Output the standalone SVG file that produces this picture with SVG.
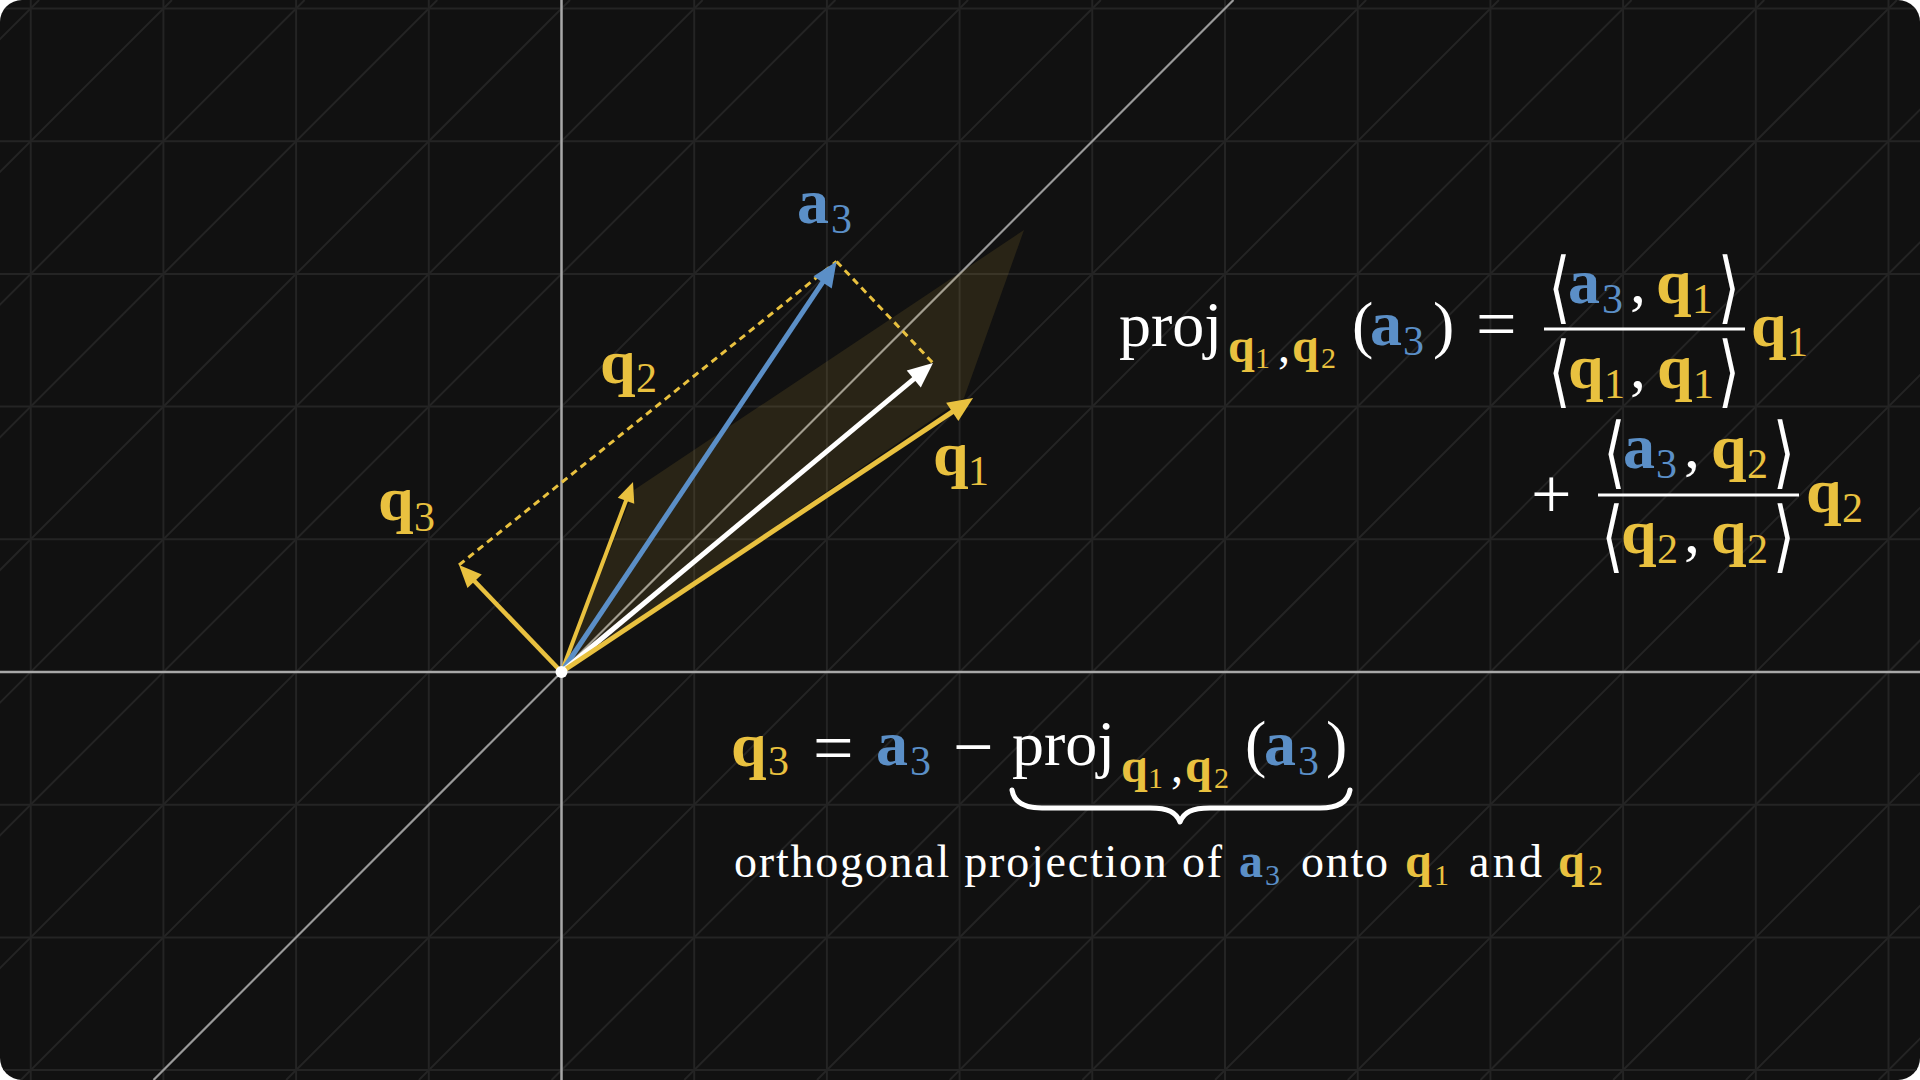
<svg xmlns="http://www.w3.org/2000/svg" width="1920" height="1080" viewBox="0 0 1920 1080">
<style>
.t{font-family:"Liberation Serif","DejaVu Serif",serif}
.b{font-weight:700}
.w{fill:#ffffff}
.y{fill:#E9C13F}
.bl{fill:#5B8FC7}
.ang{font-family:"DejaVu Sans","Noto Sans",sans-serif;font-size:56px;fill:#ffffff}
.grid{stroke:#242424;stroke-width:2;fill:none}
.axis{stroke:#a8a8a8;stroke-width:2.5;fill:none}
.guide{stroke:#E9C13F;stroke-width:3;stroke-dasharray:7 5;fill:none}
.vec{fill:none;stroke-linecap:butt}
.bar{stroke:#ffffff;stroke-width:3}
</style>
<defs>
<clipPath id="card"><rect x="0" y="0" width="1920" height="1080" rx="22" ry="22"/></clipPath>
<marker id="ah-y" markerUnits="strokeWidth" markerWidth="6" markerHeight="6" viewBox="0 -3 6 6" refX="1" refY="0" orient="auto" overflow="visible"><path d="M0,-2.2 L5,0 L0,2.2 Z" fill="#E9C13F"/></marker>
<marker id="ah-b" markerUnits="strokeWidth" markerWidth="6" markerHeight="6" viewBox="0 -3 6 6" refX="1" refY="0" orient="auto" overflow="visible"><path d="M0,-2.2 L5,0 L0,2.2 Z" fill="#5B8FC7"/></marker>
<marker id="ah-w" markerUnits="strokeWidth" markerWidth="6" markerHeight="6" viewBox="0 -3 6 6" refX="1" refY="0" orient="auto" overflow="visible"><path d="M0,-2.2 L5,0 L0,2.2 Z" fill="#ffffff"/></marker>
</defs>
<rect x="0" y="0" width="1920" height="1080" fill="#ffffff"/>
<rect id="card-bg" x="0" y="0" width="1920" height="1080" rx="22" ry="22" fill="#111111"/>
<g clip-path="url(#card)">
<g id="grid">
<path class="grid" d="M30.7,0V1080M163.4,0V1080M296.1,0V1080M428.8,0V1080M694.2,0V1080M826.9,0V1080M959.6,0V1080M1092.3,0V1080M1225,0V1080M1357.7,0V1080M1490.4,0V1080M1623.1,0V1080M1755.8,0V1080M1888.5,0V1080M0,8.5H1920M0,141.2H1920M0,273.9H1920M0,406.6H1920M0,539.3H1920M0,804.7H1920M0,937.4H1920M0,1070.1H1920"/>
<path class="grid" stroke-width="1.8" d="M-1040.8,1080L39.2,0M-908.1,1080L171.9,0M-775.4,1080L304.6,0M-642.7,1080L437.3,0M-510,1080L570,0M-377.3,1080L702.7,0M-244.6,1080L835.4,0M-111.9,1080L968.1,0M20.8,1080L1100.8,0M286.2,1080L1366.2,0M418.9,1080L1498.9,0M551.6,1080L1631.6,0M684.3,1080L1764.3,0M817,1080L1897,0M949.7,1080L2029.7,0M1082.4,1080L2162.4,0M1215.1,1080L2295.1,0M1347.8,1080L2427.8,0M1480.5,1080L2560.5,0M1613.2,1080L2693.2,0M1745.9,1080L2825.9,0M1878.6,1080L2958.6,0"/>
</g>
<g id="axes">
<path class="axis" d="M0,672H1920M561.5,0V1080"/>
<path id="diagonal" d="M153.5,1080L1233.5,0" stroke="#9a9a9a" stroke-width="2.2" fill="none"/>
</g>
</g>
<g id="span-plane">
<polygon points="561.5,672 634,490 1024,230 964,398" fill="#E9C13F" fill-opacity="0.11"/>
</g>
<g id="connectors">
<path id="guide-q3-a3" class="guide" d="M459,565L836.5,261.5"/>
<path id="guide-a3-proj" class="guide" d="M836.5,261.5L933,363"/>
</g>
<g id="vectors">
<g id="vec-q3"><path class="vec" d="M561.5,672L471.5,578" stroke="#E9C13F" stroke-width="4.5" marker-end="url(#ah-y)"/></g>
<g id="vec-q2"><path class="vec" d="M561.5,672L627.4,497" stroke="#E9C13F" stroke-width="4" marker-end="url(#ah-y)"/></g>
<g id="vec-a3"><path class="vec" d="M561.5,672L825.4,278.1" stroke="#5B8FC7" stroke-width="5" marker-end="url(#ah-b)"/></g>
<g id="vec-proj"><path class="vec" d="M561.5,672L917.6,375.8" stroke="#ffffff" stroke-width="5" marker-end="url(#ah-w)"/></g>
<g id="vec-q1"><path class="vec" d="M561.5,672L956.4,409.1" stroke="#E9C13F" stroke-width="5" marker-end="url(#ah-y)"/></g>
<circle id="origin" cx="561.5" cy="672" r="6" fill="#ffffff"/>
</g>
<g id="labels">
<text id="label-a3" class="t"><tspan class="b bl" x="797" y="223" font-size="64">a</tspan><tspan class="bl" x="831" y="233" font-size="42">3</tspan></text>
<text id="label-q2" class="t"><tspan class="b y" x="600" y="383" font-size="64">q</tspan><tspan class="y" x="636" y="392" font-size="42">2</tspan></text>
<text id="label-q1" class="t"><tspan class="b y" x="933" y="475" font-size="64">q</tspan><tspan class="y" x="968" y="485" font-size="42">1</tspan></text>
<text id="label-q3" class="t"><tspan class="b y" x="378" y="520" font-size="64">q</tspan><tspan class="y" x="414" y="531" font-size="42">3</tspan></text>
</g>
<g id="formula-proj">
<text class="t">
<tspan class="w" x="1119" y="346" font-size="64">proj</tspan>
<tspan class="b y" x="1228" y="362" font-size="48">q</tspan>
<tspan class="y" x="1255" y="368" font-size="30">1</tspan>
<tspan class="w" x="1278" y="362" font-size="48">,</tspan>
<tspan class="b y" x="1292" y="362" font-size="48">q</tspan>
<tspan class="y" x="1321" y="368" font-size="30">2</tspan>
<tspan class="w" x="1352" y="346" font-size="64">(</tspan>
<tspan class="b bl" x="1370" y="345" font-size="64">a</tspan>
<tspan class="bl" x="1403" y="355" font-size="42">3</tspan>
<tspan class="w" x="1433" y="346" font-size="64">)</tspan>
<tspan class="w" x="1476" y="348" font-size="72">=</tspan>
</text>
<line class="bar" x1="1544" y1="329" x2="1745" y2="329"/>
<text class="t">
<tspan class="b bl" x="1568" y="303" font-size="64">a</tspan>
<tspan class="bl" x="1602" y="313" font-size="42">3</tspan>
<tspan class="w" x="1630" y="303" font-size="64">,</tspan>
<tspan class="b y" x="1656" y="303" font-size="64">q</tspan>
<tspan class="y" x="1692" y="313" font-size="42">1</tspan>
<tspan class="b y" x="1568" y="388" font-size="64">q</tspan>
<tspan class="y" x="1604" y="398" font-size="42">1</tspan>
<tspan class="w" x="1630" y="388" font-size="64">,</tspan>
<tspan class="b y" x="1657" y="388" font-size="64">q</tspan>
<tspan class="y" x="1693" y="398" font-size="42">1</tspan>
<tspan class="b y" x="1751" y="346" font-size="64">q</tspan>
<tspan class="y" x="1787" y="356" font-size="42">1</tspan>
</text>
<text class="ang" transform="translate(1548.5,314) scale(1,1.4)">⟨</text>
<text class="ang" transform="translate(1718,314) scale(1,1.4)">⟩</text>
<text class="ang" transform="translate(1548.5,398) scale(1,1.4)">⟨</text>
<text class="ang" transform="translate(1718,398) scale(1,1.4)">⟩</text>
<text class="t">
<tspan class="w" x="1531" y="518" font-size="72">+</tspan>
</text>
<line class="bar" x1="1598" y1="495" x2="1799" y2="495"/>
<text class="t">
<tspan class="b bl" x="1623" y="468" font-size="64">a</tspan>
<tspan class="bl" x="1656" y="478" font-size="42">3</tspan>
<tspan class="w" x="1684" y="468" font-size="64">,</tspan>
<tspan class="b y" x="1711" y="468" font-size="64">q</tspan>
<tspan class="y" x="1747" y="478" font-size="42">2</tspan>
<tspan class="b y" x="1621" y="553" font-size="64">q</tspan>
<tspan class="y" x="1657" y="563" font-size="42">2</tspan>
<tspan class="w" x="1684" y="553" font-size="64">,</tspan>
<tspan class="b y" x="1711" y="553" font-size="64">q</tspan>
<tspan class="y" x="1747" y="563" font-size="42">2</tspan>
<tspan class="b y" x="1806" y="512" font-size="64">q</tspan>
<tspan class="y" x="1842" y="522" font-size="42">2</tspan>
</text>
<text class="ang" transform="translate(1603.5,479) scale(1,1.4)">⟨</text>
<text class="ang" transform="translate(1773,479) scale(1,1.4)">⟩</text>
<text class="ang" transform="translate(1601.5,563) scale(1,1.4)">⟨</text>
<text class="ang" transform="translate(1773,563) scale(1,1.4)">⟩</text>
</g>
<g id="formula-q3">
<text class="t">
<tspan class="b y" x="731" y="766" font-size="64">q</tspan>
<tspan class="y" x="768" y="775" font-size="42">3</tspan>
<tspan class="w" x="813" y="772" font-size="72">=</tspan>
<tspan class="b bl" x="876" y="765" font-size="64">a</tspan>
<tspan class="bl" x="910" y="775" font-size="42">3</tspan>
<tspan class="w" x="953" y="771" font-size="72">−</tspan>
<tspan class="w" x="1012" y="765" font-size="64">proj</tspan>
<tspan class="b y" x="1121" y="782" font-size="48">q</tspan>
<tspan class="y" x="1148" y="788" font-size="30">1</tspan>
<tspan class="w" x="1171" y="782" font-size="48">,</tspan>
<tspan class="b y" x="1185" y="782" font-size="48">q</tspan>
<tspan class="y" x="1214" y="788" font-size="30">2</tspan>
<tspan class="w" x="1245" y="765" font-size="64">(</tspan>
<tspan class="b bl" x="1264" y="765" font-size="64">a</tspan>
<tspan class="bl" x="1298" y="775" font-size="42">3</tspan>
<tspan class="w" x="1326" y="765" font-size="64">)</tspan>
</text>
<path id="underbrace" d="M1012,790 C1014,802 1024,808 1042,808 L1150,808 C1168,808 1176,812 1180,822 C1184,812 1192,808 1210,808 L1320,808 C1338,808 1348,802 1350,790" fill="none" stroke="#ffffff" stroke-width="5" stroke-linecap="round" stroke-linejoin="round"/>
</g>
<g id="caption">
<text class="t" font-size="46">
<tspan class="w" x="734" y="877" textLength="488" lengthAdjust="spacing">orthogonal projection of</tspan>
<tspan class="b bl" x="1239" y="877" font-size="48">a</tspan>
<tspan class="bl" x="1265" y="885" font-size="30">3</tspan>
<tspan class="w" x="1301" y="877" textLength="87" lengthAdjust="spacing">onto</tspan>
<tspan class="b y" x="1405" y="877" font-size="48">q</tspan>
<tspan class="y" x="1434" y="885" font-size="30">1</tspan>
<tspan class="w" x="1469" y="877" textLength="73" lengthAdjust="spacing">and</tspan>
<tspan class="b y" x="1558" y="877" font-size="48">q</tspan>
<tspan class="y" x="1588" y="885" font-size="30">2</tspan>
</text>
</g>
</svg>
